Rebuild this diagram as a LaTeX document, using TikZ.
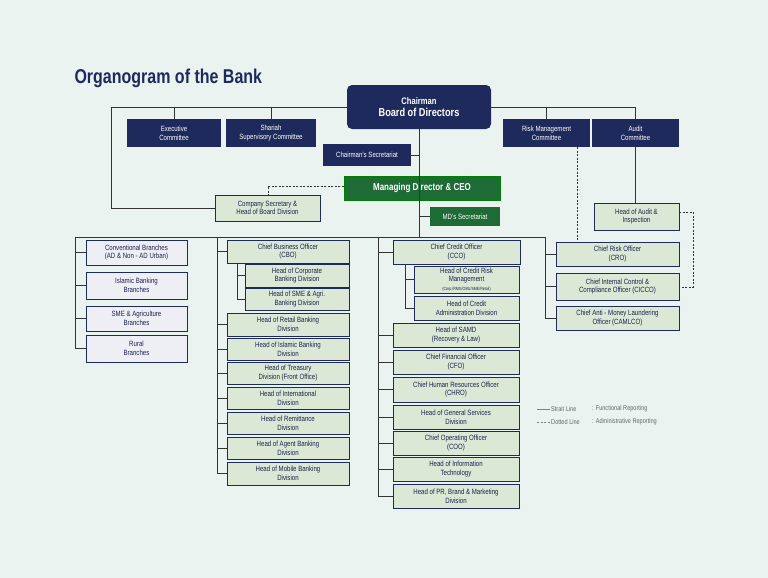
\documentclass[tikz,border=0pt]{standalone}
\usepackage{fontspec}
\setmainfont[FakeStretch=0.8]{Liberation Sans}
\begin{document}
\begin{tikzpicture}[x=1pt,y=-1pt,
  bx/.style={draw=navy,line width=0.8pt,fill=lgreen,align=center,font=\fontsize{7.6}{8.6}\selectfont,text=navy!80!black,inner sep=0pt},
  pb/.style={bx,fill=pale},
  nv/.style={fill=navy,text=white,align=center,font=\fontsize{7.6}{8.6}\selectfont,inner sep=0pt},
  ln/.style={draw=darkl,line width=0.8pt},
  dl/.style={draw=darkl,line width=0.7pt,dashed,dash pattern=on 2pt off 1.5pt}]
\definecolor{bg}{HTML}{EAF3EF}
\definecolor{navy}{HTML}{1F2A5C}
\definecolor{lgreen}{HTML}{DBE8D6}
\definecolor{pale}{HTML}{EEEEF5}
\definecolor{dgreen}{HTML}{1E6B35}
\definecolor{darkl}{HTML}{333333}
\fill[bg] (0,0) rectangle (768,578);
\useasboundingbox (0,0) rectangle (768,578);
\node[anchor=west,text=navy,font=\fontsize{20}{22}\selectfont\bfseries] (title) at (71,78) {Organogram of the Bank};
\newcommand{\bb}[6]{\node[#1,minimum width=#4-#2,minimum height=#5-#3] (#6) at ({(#2+#4)/2},{(#3+#5)/2})}
% top
\node[nv,rounded corners=5pt,minimum width=144,minimum height=44,font=\fontsize{9.5}{12}\selectfont\bfseries] (ch) at (419,107) {Chairman\\{\fontsize{11.5}{13}\selectfont Board of Directors}};
\bb{nv}{127}{119}{221}{147}{ex} {Executive\\Committee};
\bb{nv}{226}{119}{316}{147}{sh} {Shariah\\Supervisory Committee};
\bb{nv}{503}{119}{590}{147}{rm} {Risk Management\\Committee};
\bb{nv}{592}{119}{679}{147}{au} {Audit\\Committee};
\bb{nv}{323}{144}{411}{166}{cs} {Chairman's Secretariat};
\bb{nv,fill=dgreen,draw=green!50!black,font=\fontsize{10}{12}\selectfont\bfseries}{344}{176}{500}{200}{md} {Managing Director \& CEO};
\bb{nv,fill=dgreen}{430}{207}{500}{226}{mds} {MD's Secretariat};
\bb{bx}{215}{195}{320}{221}{csec} {Company Secretary \&\\Head of Board Division};
\bb{bx}{594}{203}{679}{230}{ha} {Head of Audit \&\\Inspection};
\coordinate (tl) at (111,107); \coordinate (tr) at (635.5,107);
\draw[ln] (ch.west) -- (tl) -- (111,208) -- (csec.west);
\draw[ln] (ch.east) -- (tr) -- (au.north);
\draw[ln] (ex.north) -- (ex.north |- tl); \draw[ln] (sh.north) -- (sh.north |- tl); \draw[ln] (rm.north) -- (rm.north |- tl);
\draw[ln] (au.south) -- (au.south |- ha.north);
\draw[ln] (ch.south) -- (419,237);
\draw[ln] (cs.east) -- (419,155);
\draw[ln] (mds.west) -- (419,216.5);
\draw[dl] (md.west |- 0,186) -- (268,186) -- (csec.north -| 268,0);
% columns
\draw[ln] (75,237) -- (545,237);
% column 1
\bb{pb}{86}{240}{187}{265}{c1} {Conventional Branches\\(AD \& Non - AD Urban)};
\bb{pb}{86}{272}{187}{299}{c2} {Islamic Banking\\Branches};
\bb{pb}{86}{306}{187}{331}{c3} {SME \& Agriculture\\Branches};
\bb{pb}{86}{335}{187}{362}{c4} {Rural\\Branches};
\draw[ln] (75,237) -- (75,348.5);
\foreach \n in {c1,c2,c3,c4} \draw[ln] (\n.west) -- (\n.west -| 75,0);
% column 2
\bb{bx}{227}{240}{349}{263}{b0} {Chief Business Officer\\(CBO)};
\bb{bx}{245}{264}{349}{287}{b1} {Head of Corporate\\Banking Division};
\bb{bx}{245}{288}{349}{310}{b2} {Head of SME \& Agri.\\Banking Division};
\bb{bx}{227}{313}{349}{336}{b3} {Head of Retail Banking\\Division};
\bb{bx}{227}{338}{349}{360}{b4} {Head of Islamic Banking\\Division};
\bb{bx}{227}{362}{349}{384}{b5} {Head of Treasury\\Division (Front Office)};
\bb{bx}{227}{387}{349}{409}{b6} {Head of International\\Division};
\bb{bx}{227}{412}{349}{434}{b7} {Head of Remittance\\Division};
\bb{bx}{227}{437}{349}{459}{b8} {Head of Agent Banking\\Division};
\bb{bx}{227}{462}{349}{485}{b9} {Head of Mobile Banking\\Division};
\draw[ln] (217,237) -- (217,473.5);
\foreach \n in {b0,b3,b4,b5,b6,b7,b8,b9} \draw[ln] (\n.west) -- (\n.west -| 217,0);
\draw[ln] (b0.south -| 237,0) -- (237,299);
\foreach \n in {b1,b2} \draw[ln] (\n.west) -- (\n.west -| 237,0);
% column 3
\bb{bx}{393}{240}{520}{264}{d0} {Chief Credit Officer\\(CCO)};
\bb{bx}{414}{266}{519}{293}{d1} {Head of Credit Risk\\Management\\{\fontsize{4.5}{5}\selectfont (Corp./RMG/OBU/SME/Retail)}};
\bb{bx}{414}{296}{519}{320}{d2} {Head of Credit\\Administration Division};
\bb{bx}{393}{323}{519}{347}{d3} {Head of SAMD\\(Recovery \& Law)};
\bb{bx}{393}{350}{519}{374}{d4} {Chief Financial Officer\\(CFO)};
\bb{bx}{393}{377}{519}{402}{d5} {Chief Human Resources Officer\\(CHRO)};
\bb{bx}{393}{405}{519}{429}{d6} {Head of General Services\\Division};
\bb{bx}{393}{431}{519}{455}{d7} {Chief Operating Officer\\(COO)};
\bb{bx}{393}{457}{519}{481}{d8} {Head of Information\\Technology};
\bb{bx}{393}{484}{519}{508}{d9} {Head of PR, Brand \& Marketing\\Division};
\draw[ln] (378,237) -- (378,496);
\foreach \n in {d0,d3,d4,d5,d6,d7,d8,d9} \draw[ln] (\n.west) -- (\n.west -| 378,0);
\draw[ln] (d0.south -| 405,0) -- (405,308);
\foreach \n in {d1,d2} \draw[ln] (\n.west) -- (\n.west -| 405,0);
% column 4
\bb{bx}{556}{242}{679}{266}{e1} {Chief Risk Officer\\(CRO)};
\bb{bx}{556}{273}{679}{300}{e2} {Chief Internal Control \&\\Compliance Officer (CICCO)};
\bb{bx}{556}{306}{679}{330}{e3} {Chief Anti - Money Laundering\\Officer (CAMLCO)};
\draw[ln] (545,237) -- (545,318);
\foreach \n in {e1,e2,e3} \draw[ln] (\n.west) -- (\n.west -| 545,0);
\draw[dl] (rm.south -| 577,0) -- (e1.north -| 577,0);
\draw[dl] (ha.east |- 0,212) -- (693,212) -- (693,287) -- (e2.east |- 0,287);
% legend
\coordinate (l1a) at (537,409); \coordinate (l1b) at (550,409);
\coordinate (l2a) at (537,422); \coordinate (l2b) at (550,422);
\draw[ln,draw=gray] (l1a) -- (l1b); \draw[dl,draw=gray] (l2a) -- (l2b);
\node[anchor=west,font=\fontsize{7}{8}\selectfont,text=gray!80!black,inner sep=1pt] (lg1) at (l1b) {Strait Line};
\node[anchor=west,font=\fontsize{7}{8}\selectfont,text=gray!80!black,inner sep=1pt] (lg2) at (l2b) {Dotted Line};
\node[anchor=west,font=\fontsize{7}{8}\selectfont,text=gray!80!black,inner sep=0pt] (lg3) at (592,409) {: Functional Reporting};
\node[anchor=west,font=\fontsize{7}{8}\selectfont,text=gray!80!black,inner sep=0pt] (lg4) at (592,422) {: Administrative Reporting};
\end{tikzpicture}
\end{document}
